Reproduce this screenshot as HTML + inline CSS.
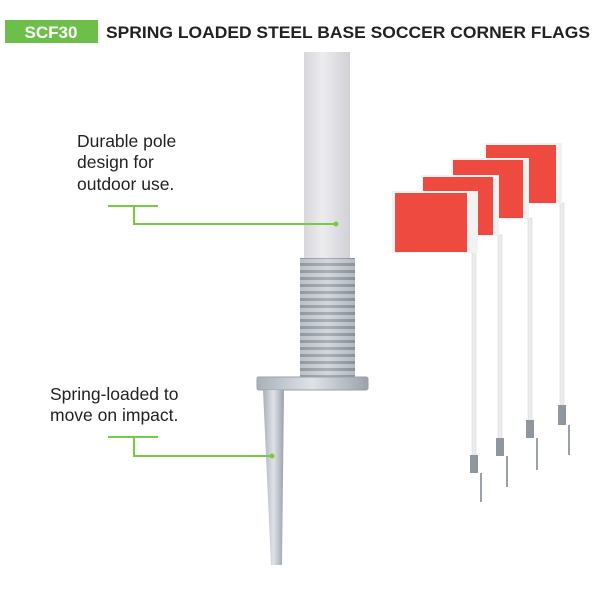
<!DOCTYPE html>
<html><head><style>body{margin:0;background:#fff}svg{display:block}</style></head><body>
<svg width="600" height="600" viewBox="0 0 600 600" xmlns="http://www.w3.org/2000/svg">
<defs>
<linearGradient id="pole" x1="0" x2="1"><stop offset="0" stop-color="#d8d8dc"/><stop offset="0.4" stop-color="#ececef"/><stop offset="1" stop-color="#d0d0d6"/></linearGradient>
<linearGradient id="steel" x1="0" x2="1"><stop offset="0" stop-color="#a9b0b8"/><stop offset="0.5" stop-color="#dfe3e8"/><stop offset="1" stop-color="#9aa1aa"/></linearGradient>
<pattern id="coil" width="8" height="7" patternUnits="userSpaceOnUse"><rect width="8" height="7" fill="#c9ced4"/><rect y="4" width="8" height="3" fill="#7d848d"/></pattern>
</defs>
<rect x="5" y="20" width="93" height="23" fill="#6cc04a"/>
<text x="51" y="38" text-anchor="middle" font-family="Liberation Sans, sans-serif" font-weight="bold" font-size="17" fill="#fff">SCF30</text>
<text x="106" y="38" font-family="Liberation Sans, sans-serif" font-weight="bold" font-size="17" fill="#222" textLength="484" lengthAdjust="spacingAndGlyphs">SPRING LOADED STEEL BASE SOCCER CORNER FLAGS</text>
<rect x="304" y="52" width="46" height="210" fill="url(#pole)"/>
<rect x="300" y="258" width="55" height="120" fill="url(#coil)"/>
<rect x="300" y="258" width="55" height="120" fill="url(#steel)" opacity="0.45"/>
<rect x="257" y="377" width="111" height="13" rx="2" fill="url(#steel)" stroke="#9aa1aa"/>
<polygon points="263,390 284,390 282,565 271,565" fill="url(#steel)"/>
<g font-family="Liberation Sans, sans-serif" font-size="17.5" fill="#222">
<text x="77" y="147">Durable pole</text>
<text x="77" y="168">design for</text>
<text x="77" y="190">outdoor use.</text>
<text x="50" y="400">Spring-loaded to</text>
<text x="50" y="421">move on impact.</text>
</g>
<g stroke="#7ac943" stroke-width="2" fill="none">
<path d="M108 206H158M134 206V224H336"/>
<path d="M108 437H158M134 437V456H272"/>
</g>
<circle cx="336" cy="224" r="2.5" fill="#7ac943"/>
<circle cx="272" cy="456" r="2.5" fill="#7ac943"/>
<g>
<rect x="560" y="203" width="4" height="205" fill="#ececee" stroke="#d0d0d4" stroke-width="0.5"/>
<rect x="484" y="143" width="78" height="61" fill="#f2f2f2"/><rect x="486" y="145" width="70" height="58" fill="#ef4a3f"/>
<rect x="558" y="405" width="8" height="20" fill="#8f969e"/><line x1="569" y1="425" x2="569" y2="455" stroke="#9aa1aa" stroke-width="2"/>
<rect x="528" y="218" width="4" height="205" fill="#ececee" stroke="#d0d0d4" stroke-width="0.5"/>
<rect x="451" y="158" width="78" height="61" fill="#f2f2f2"/><rect x="453" y="160" width="70" height="58" fill="#ef4a3f"/>
<rect x="526" y="420" width="8" height="18" fill="#8f969e"/><line x1="537" y1="438" x2="537" y2="470" stroke="#9aa1aa" stroke-width="2"/>
<rect x="498" y="235" width="4" height="205" fill="#ececee" stroke="#d0d0d4" stroke-width="0.5"/>
<rect x="421" y="175" width="78" height="61" fill="#f2f2f2"/><rect x="423" y="177" width="70" height="58" fill="#ef4a3f"/>
<rect x="496" y="438" width="8" height="18" fill="#8f969e"/><line x1="507" y1="456" x2="507" y2="487" stroke="#9aa1aa" stroke-width="2"/>
<rect x="472" y="252" width="4" height="205" fill="#ececee" stroke="#d0d0d4" stroke-width="0.5"/>
<rect x="392" y="191" width="86" height="62" fill="#f2f2f2"/><rect x="395" y="193" width="72" height="59" fill="#ef4a3f"/>
<rect x="470" y="455" width="8" height="18" fill="#8f969e"/><line x1="481" y1="473" x2="481" y2="502" stroke="#9aa1aa" stroke-width="2"/>
</g>
</svg>
</body></html>
